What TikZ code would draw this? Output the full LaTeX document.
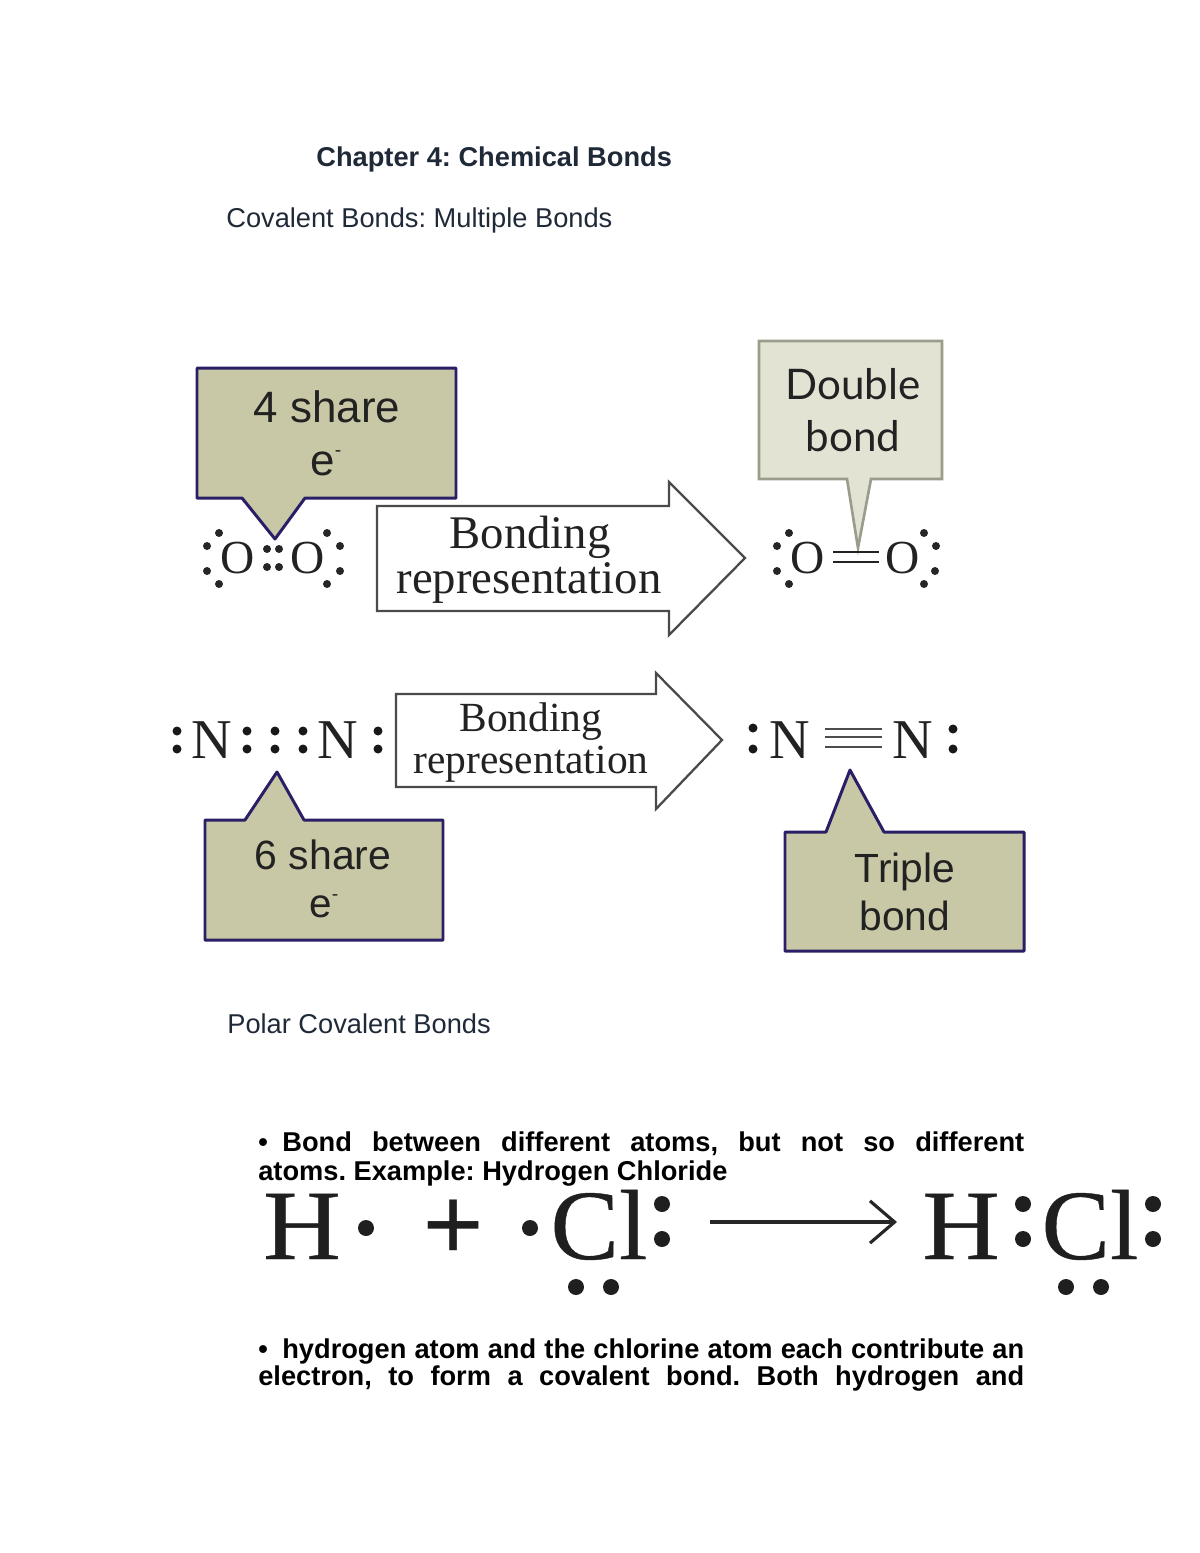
\documentclass[tikz,border=0pt]{standalone}
\usepackage{graphicx}
\usepackage{fontspec}
\setmainfont{Liberation Sans}
\newfontfamily\serifatom{Liberation Serif}
\newfontfamily\serifheavy[FakeBold=0.4]{Liberation Serif}
\newfontfamily\lightsans{Lato}
\usetikzlibrary{arrows.meta}
\definecolor{headink}{HTML}{1F2937}
\definecolor{olivefill}{HTML}{C8C8A6}
\definecolor{olivelight}{HTML}{E3E3D4}
\definecolor{oliveedge}{HTML}{9A9C8C}
\definecolor{navyedge}{HTML}{2A1F66}
\definecolor{arrowedge}{HTML}{4A4A4A}
\definecolor{atomink}{HTML}{222222}
\newcommand{\eminus}{e\raisebox{0.42em}{\fontsize{11}{11}\selectfont -}}
\newcommand{\widesym}[1]{\scalebox{1.08}[1]{#1}}
\newcommand{\widecl}[1]{\scalebox{1.03}[1]{#1}}
\tikzset{
	txt/.style={inner sep=0pt, anchor=base west, text=headink},
	boldline/.style={inner sep=0pt, anchor=base west, text=black},
	bubble/.style={line width=1.7pt, draw=navyedge, fill=olivefill, line join=round},
	bigarrow/.style={line width=1.3pt, draw=arrowedge, fill=white, line join=miter},
	bubbletext/.style={inner sep=0pt, text=atomink},
	repr/.style={inner sep=0pt, text=atomink},
	atomsmall/.style={inner sep=0pt, anchor=base, text=atomink},
	atombig/.style={inner sep=0pt, anchor=base, text=black!88, font=\serifheavy\fontsize{56.7}{60}\selectfont},
}
\begin{document}
\frenchspacing
\begin{tikzpicture}[x=0.02cm, y=-0.02cm]
		%%%%% START %%%%%
		\useasboundingbox (0, 0) rectangle (1200, 1553);
		
		\node[txt, font=\fontsize{15.5}{18}\selectfont\bfseries] (chapter) at (316, 166) {Chapter 4: Chemical Bonds};
		\node[txt, font=\fontsize{15.5}{18}\selectfont] (covalent) at (226, 227) {Covalent Bonds: Multiple Bonds};
		
		% O2 on the left
		\draw[bubble] (197, 368) -- (456, 368) -- (456, 498) -- (305, 498) -- (275, 539) -- (242, 498) -- (197, 498) -- cycle;
		\node[bubbletext, font=\fontsize{25}{30}\selectfont] (foursharetop) at (327, 407) {4 share};
		\node[bubbletext, anchor=base west, font=\fontsize{25}{30}\selectfont] (foursharebot) at (310, 475) {\eminus};
		\node[atomsmall, font=\serifatom\fontsize{27}{30}\selectfont] (oxyleft) at (238, 573) {O};
		\node[atomsmall, font=\serifatom\fontsize{27}{30}\selectfont] (oxyright) at (308, 573) {O};
		\foreach \x/\y in {219/533, 207/546, 207/571, 219/584, 267/549, 279/549, 267/567, 279/567, 327/533, 340/546, 340/571, 327/584}
			\fill[black!85] (\x, \y) circle (4);
		
		% first arrow
		\draw[bigarrow] (377, 506) -- (669, 506) -- (669, 482) -- (745, 558) -- (669, 635) -- (669, 611) -- (377, 611) -- cycle;
		\node[repr, font=\serifatom\fontsize{26.6}{30}\selectfont] (bondingone) at (530, 537) {Bonding};
		\node[repr, font=\serifatom\fontsize{26.6}{30}\selectfont] (reprone) at (529, 583) {representation};
		
		% O=O on the right
		\draw[line width=1.5pt, draw=oliveedge, fill=olivelight] (759, 341) -- (942, 341) -- (942, 479) -- (871, 479) -- (858, 548) -- (847, 479) -- (759, 479) -- cycle;
		\node[bubbletext, font=\lightsans\fontsize{24}{30}\selectfont] (doubleword) at (853, 384) {Double};
		\node[bubbletext, font=\lightsans\fontsize{24}{30}\selectfont] (bondword) at (853, 436) {bond};
		\node[atomsmall, font=\serifatom\fontsize{27}{30}\selectfont] (oxytwoleft) at (808, 573) {O};
		\node[atomsmall, font=\serifatom\fontsize{27}{30}\selectfont] (oxytworight) at (903, 573) {O};
		\draw[line width=1.3pt, draw=atomink] (833, 552) -- (879, 552);
		\draw[line width=1.3pt, draw=atomink] (833, 562) -- (879, 562);
		\foreach \x/\y in {789/533, 777/546, 777/571, 789/584, 924/533, 936/546, 935/571, 924/584}
			\fill[black!85] (\x, \y) circle (4);
		
		% N2 on the left
		\node[atomsmall, font=\serifatom\fontsize{32}{36}\selectfont] (nitroleft) at (212, 758) {N};
		\node[atomsmall, font=\serifatom\fontsize{32}{36}\selectfont] (nitroright) at (338, 758) {N};
		\foreach \x in {177, 247, 275, 303, 378} {
			\fill[black!90] (\x, 731) circle (4.5);
			\fill[black!90] (\x, 749) circle (4.5);
		}
		\draw[bubble] (205, 820) -- (245, 820) -- (277, 772) -- (304, 820) -- (443, 820) -- (443, 940) -- (205, 940) -- cycle;
		\node[bubbletext, font=\fontsize{23.3}{28}\selectfont] (sixsharetop) at (323, 855) {6 share};
		\node[bubbletext, anchor=base west, font=\fontsize{23}{28}\selectfont] (sixsharebot) at (309, 917) {\eminus};
		
		% second arrow
		\draw[bigarrow] (396, 694) -- (656, 694) -- (656, 673) -- (722, 740) -- (656, 809) -- (656, 787) -- (396, 787) -- cycle;
		\node[repr, font=\serifatom\fontsize{23.6}{28}\selectfont] (bondingtwo) at (531, 722) {Bonding};
		\node[repr, font=\serifatom\fontsize{23.6}{28}\selectfont] (reprtwo) at (531, 764) {representation};
		
		% triple bond on the right
		\node[atomsmall, font=\serifatom\fontsize{32}{36}\selectfont] (nitrotwoleft) at (790, 758) {N};
		\node[atomsmall, font=\serifatom\fontsize{32}{36}\selectfont] (nitrotworight) at (913, 758) {N};
		\foreach \y in {729, 737, 747}
			\draw[line width=1.2pt, draw=black!70] (825, \y) -- (882, \y);
		\foreach \x/\y in {753/728, 753/749, 953/729, 953/749}
			\fill[black!90] (\x, \y) circle (4.5);
		\draw[bubble] (785, 832) -- (826, 832) -- (850, 770) -- (884, 832) -- (1024, 832) -- (1024, 951) -- (785, 951) -- cycle;
		\node[bubbletext, font=\fontsize{23.2}{28}\selectfont] (tripleword) at (905, 872) {Triple};
		\node[bubbletext, font=\fontsize{23.2}{28}\selectfont] (bondwordtwo) at (905, 916) {bond};
		
		\node[txt, font=\fontsize{15.5}{18}\selectfont] (polar) at (227, 1033) {Polar Covalent Bonds};
		
		\node[boldline, font=\fontsize{15.5}{18}\selectfont\bfseries] (lineone) at (258, 1151) {\makebox[15.32cm][s]{\makebox[0.48cm][l]{•}Bond between different atoms, but not so different}};
		\node[boldline, font=\fontsize{15.5}{18}\selectfont\bfseries] (linetwo) at (258, 1180) {atoms. Example: Hydrogen Chloride};
		
		% HCl reaction
		\node[atombig] (hleft) at (302, 1259) {\widesym{H}};
		\node[atombig, font=\serifatom\bfseries\fontsize{62}{64}\selectfont] (plus) at (454, 1261) {+};
		\node[atombig] (clleft) at (599, 1259) {\widecl{Cl}};
		\node[atombig] (hright) at (961, 1259) {\widesym{H}};
		\node[atombig] (clright) at (1090, 1259) {\widecl{Cl}};
		\coordinate (rxnstart) at (710, 1222);
		\coordinate (rxnend) at (897, 1222);
		\draw[line width=2.8pt, draw=black!85, -{Straight Barb[length=14pt, width=24pt, line width=1.8pt]}] (rxnstart) -- (rxnend);
		\foreach \x/\y in {366/1228, 530/1228, 662/1204, 662/1239, 576/1287, 611/1287, 1023/1204, 1023/1239, 1153/1204, 1153/1239, 1066/1287, 1101/1287}
			\fill[black!88] (\x, \y) circle (8);
		
		\node[boldline, font=\fontsize{15.5}{18}\selectfont\bfseries] (linethree) at (258, 1358) {\makebox[15.32cm][s]{\makebox[0.48cm][l]{•}hydrogen atom and the chlorine atom each contribute an}};
		\node[boldline, font=\fontsize{15.5}{18}\selectfont\bfseries] (linefour) at (258, 1385) {\makebox[15.32cm][s]{electron, to form a covalent bond. Both hydrogen and}};
		
		%%%%% END %%%%%
	\end{tikzpicture}
\end{document}
